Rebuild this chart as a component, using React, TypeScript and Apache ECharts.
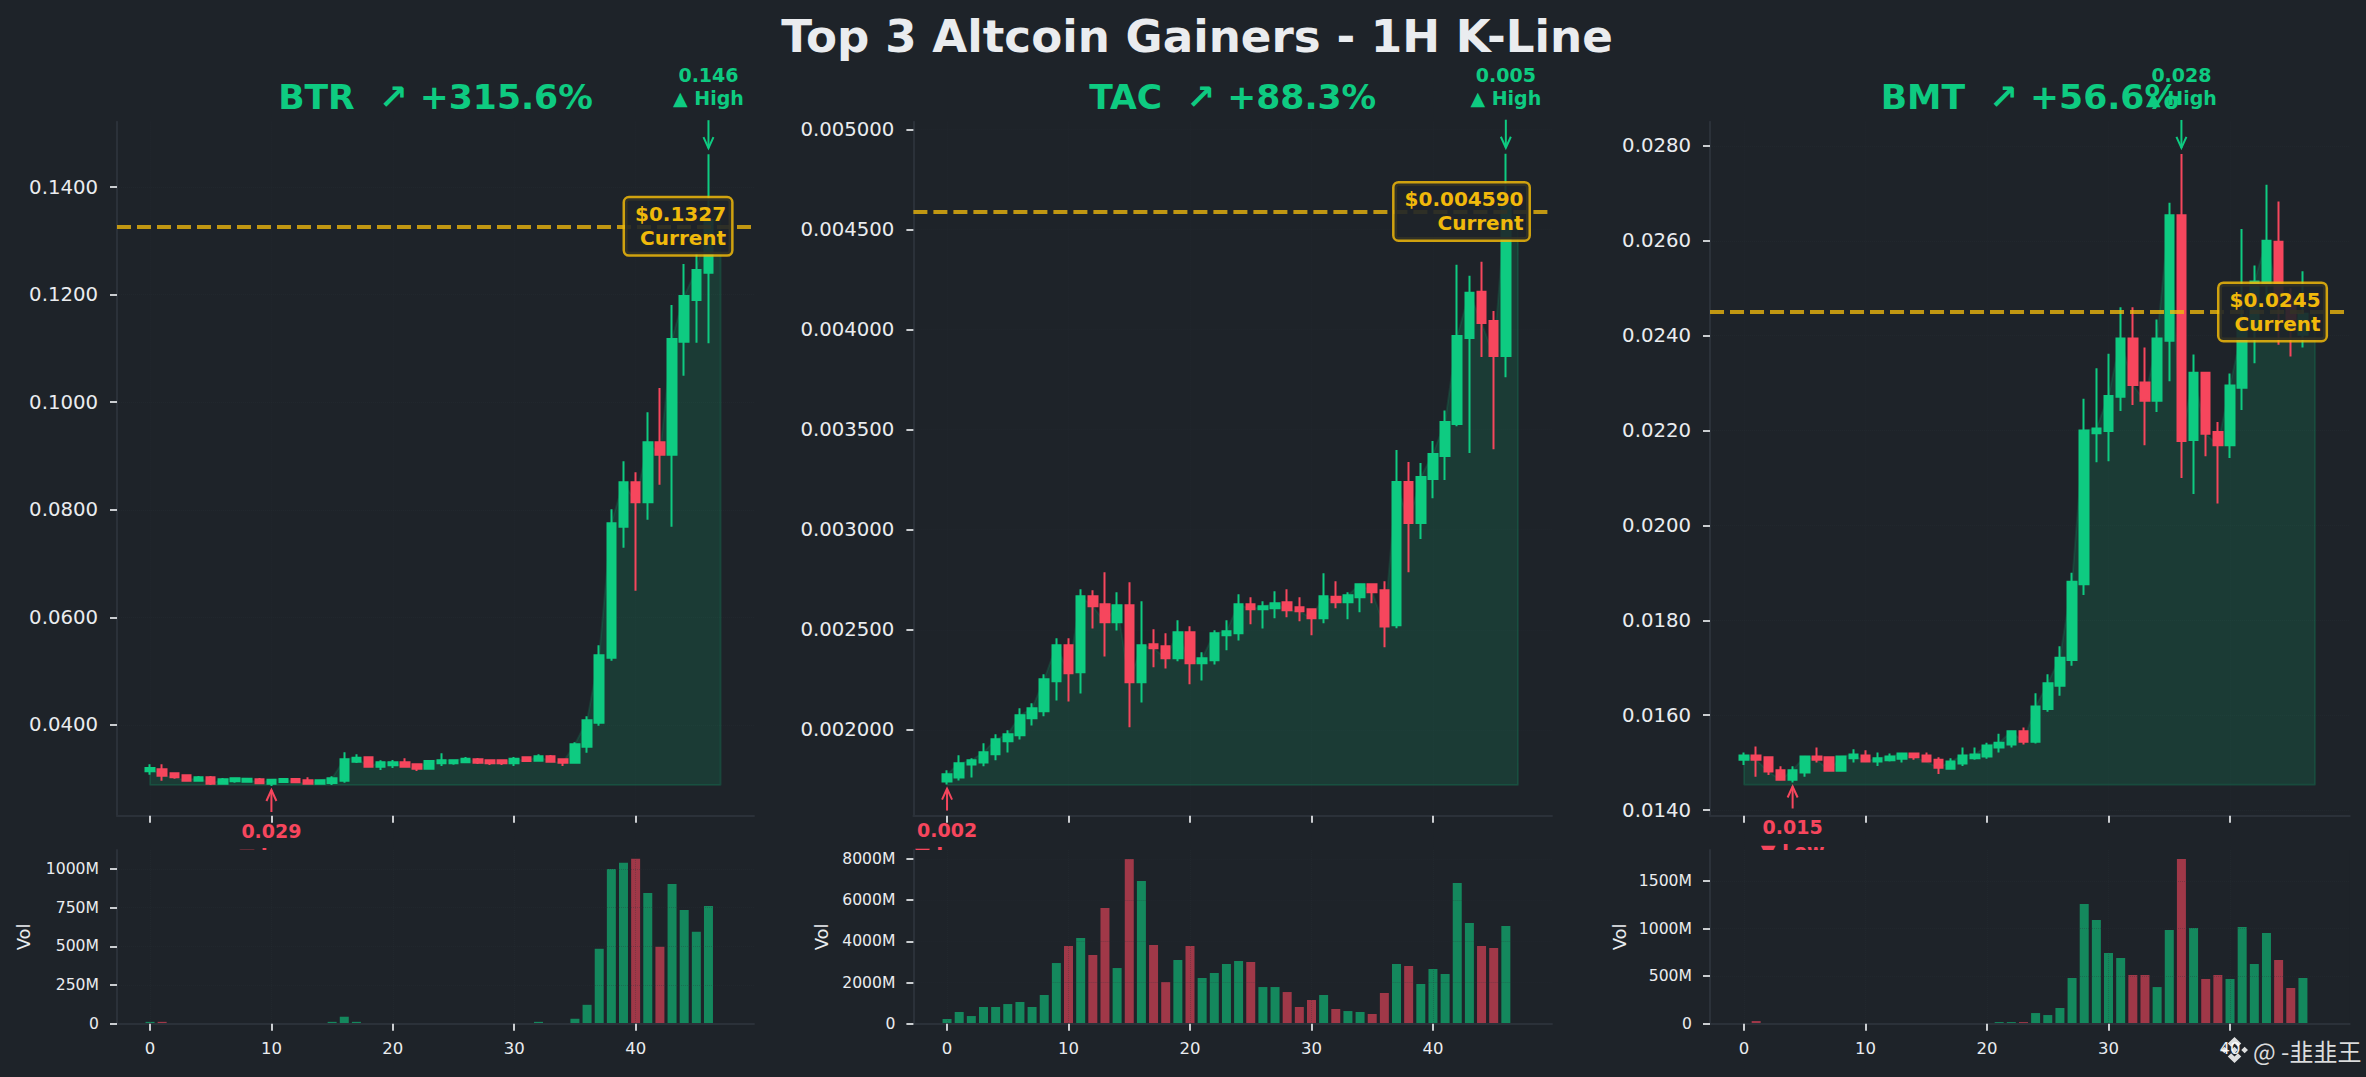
import React, { useEffect, useRef } from "react";
import * as echarts from "echarts";

const WIDTH = 2366;
const HEIGHT = 1077;
const GREEN = "#0ecb81";
const RED = "#f6465d";
const GOLD = "#f0b90b";
const BG = "#1e2329";
const TEXT = "#eaecef";
const SPINE = "#2b3139";
const FONT = '"DejaVu Sans", sans-serif';

const xTicks = [0, 10, 20, 30, 40];

// [open, close, low, high]
const btrCandles = [
  [0.03139, 0.03201, 0.03077, 0.03269], [0.03176, 0.03058, 0.02965, 0.03269], [0.03102, 0.03027, 0.03002, 0.03108],
  [0.03064, 0.02965, 0.02947, 0.03064], [0.02965, 0.03027, 0.02947, 0.03052], [0.03027, 0.02909, 0.02885, 0.03052],
  [0.02909, 0.0299, 0.02903, 0.03015], [0.02953, 0.03009, 0.02928, 0.03015], [0.02947, 0.03002, 0.02928, 0.03015],
  [0.0299, 0.02916, 0.02903, 0.03015], [0.02909, 0.02984, 0.02866, 0.02984], [0.0294, 0.02996, 0.02922, 0.03015],
  [0.02996, 0.02934, 0.02922, 0.03015], [0.02971, 0.02909, 0.02903, 0.03027], [0.02909, 0.02971, 0.02903, 0.02978],
  [0.02922, 0.03009, 0.02885, 0.03046], [0.02965, 0.03362, 0.02928, 0.03492], [0.03318, 0.03393, 0.03294, 0.03455],
  [0.03399, 0.03226, 0.03213, 0.03399], [0.03226, 0.03306, 0.03164, 0.03343], [0.0325, 0.03306, 0.03201, 0.03349],
  [0.03306, 0.03226, 0.03207, 0.0338], [0.03269, 0.03188, 0.03145, 0.03269], [0.03188, 0.03331, 0.03176, 0.03349],
  [0.03287, 0.03343, 0.03238, 0.03473], [0.03287, 0.03343, 0.03263, 0.03362], [0.03306, 0.03374, 0.03294, 0.03405],
  [0.03362, 0.033, 0.03275, 0.03387], [0.03343, 0.03287, 0.03257, 0.03343], [0.03343, 0.03287, 0.03257, 0.03343],
  [0.03287, 0.03374, 0.03238, 0.03405], [0.03399, 0.03331, 0.03318, 0.03405], [0.03337, 0.03418, 0.03318, 0.03455],
  [0.03418, 0.03318, 0.033, 0.03442], [0.03362, 0.033, 0.03238, 0.03368], [0.033, 0.03641, 0.03281, 0.03678],
  [0.03597, 0.04087, 0.03486, 0.04161], [0.04043, 0.05295, 0.03988, 0.05481], [0.05252, 0.07749, 0.05196, 0.08009],
  [0.07687, 0.08511, 0.07296, 0.08901], [0.08511, 0.08139, 0.06497, 0.08696], [0.08139, 0.09254, 0.07817, 0.09812],
  [0.09254, 0.09025, 0.08467, 0.10264], [0.09025, 0.11175, 0.07687, 0.11807], [0.11124, 0.11974, 0.10493, 0.12569],
  [0.119, 0.12457, 0.11106, 0.12792], [0.12407, 0.13387, 0.11095, 0.1461],
];
const btrVolumes = [
  12, 12, 2, 2, 1, 2, 1, 1, 1, 1, 1, 1, 1, 1, 2, 12, 45, 12, 2, 1, 1, 2, 2, 2, 3, 2, 1, 1, 1, 1, 2, 2, 12, 2, 3, 32,
  122, 484, 1000, 1039, 1065, 845, 497, 903, 735, 594, 761,
];

const tacCandles = [
  [0.001742, 0.001778, 0.001727, 0.001798], [0.001762, 0.001833, 0.001747, 0.001873], [0.001827, 0.001848, 0.001762, 0.001858],
  [0.001837, 0.001888, 0.001818, 0.001933], [0.001878, 0.001953, 0.001848, 0.001978], [0.001943, 0.001978, 0.001887, 0.001998],
  [0.001973, 0.002073, 0.001952, 0.002108], [0.002058, 0.002108, 0.002022, 0.002133], [0.002093, 0.002253, 0.002068, 0.002278],
  [0.002243, 0.002423, 0.002147, 0.002458], [0.002423, 0.002283, 0.002142, 0.002458], [0.002288, 0.002668, 0.002182, 0.002703],
  [0.002668, 0.002618, 0.002507, 0.002698], [0.002628, 0.002538, 0.002367, 0.002788], [0.002538, 0.002623, 0.002497, 0.002688],
  [0.002623, 0.002238, 0.002013, 0.002738], [0.002238, 0.002423, 0.002137, 0.002643], [0.002428, 0.002408, 0.002313, 0.002503],
  [0.002418, 0.002358, 0.002307, 0.002483], [0.002358, 0.002488, 0.002343, 0.002548], [0.002488, 0.002333, 0.002228, 0.002518],
  [0.002333, 0.002358, 0.002247, 0.002388], [0.002348, 0.002483, 0.002327, 0.002498], [0.002473, 0.002493, 0.002398, 0.002548],
  [0.002483, 0.002628, 0.002447, 0.002678], [0.002628, 0.002603, 0.002528, 0.002663], [0.002603, 0.002618, 0.002507, 0.002643],
  [0.002608, 0.002633, 0.002558, 0.002693], [0.002638, 0.002598, 0.002563, 0.002703], [0.002613, 0.002593, 0.002543, 0.002663],
  [0.002603, 0.002558, 0.002473, 0.002603], [0.002558, 0.002668, 0.002533, 0.002783], [0.002665, 0.002638, 0.002608, 0.002743],
  [0.002638, 0.002673, 0.002553, 0.002688], [0.002663, 0.002728, 0.002588, 0.002733], [0.002728, 0.002688, 0.002633, 0.002728],
  [0.002698, 0.002517, 0.002413, 0.002743], [0.002523, 0.003238, 0.002508, 0.003398], [0.003238, 0.003033, 0.002788, 0.003338],
  [0.003033, 0.003263, 0.002953, 0.003333], [0.003253, 0.003378, 0.003157, 0.003443], [0.003368, 0.003538, 0.003248, 0.003595],
  [0.003528, 0.003968, 0.003517, 0.004323], [0.003958, 0.004183, 0.003383, 0.004268], [0.004188, 0.004033, 0.003863, 0.004338],
  [0.004043, 0.003868, 0.003402, 0.004093], [0.003868, 0.00463, 0.003762, 0.004878],
];
const tacVolumes = [
  227, 567, 372, 810, 810, 955, 1053, 810, 1393, 2947, 3773, 4162, 3336, 5619, 2704, 8000, 6931, 3822, 2024, 3093, 3773,
  2219, 2462, 2899, 3045, 2996, 1781, 1781, 1538, 810, 1150, 1393, 713, 615, 567, 470, 1490, 2899, 2802, 1927, 2656, 2413,
  6834, 4891, 3773, 3676, 4745,
];

const bmtCandles = [
  [0.01506, 0.01515, 0.01495, 0.01521], [0.01515, 0.01506, 0.0147, 0.01534], [0.01511, 0.01481, 0.01474, 0.01511],
  [0.01484, 0.01464, 0.01462, 0.01492], [0.01464, 0.01484, 0.01458, 0.01492], [0.01479, 0.01513, 0.0147, 0.01513],
  [0.01513, 0.01506, 0.015, 0.01532], [0.01511, 0.01483, 0.01483, 0.01511], [0.01483, 0.01513, 0.01481, 0.01515],
  [0.01509, 0.01517, 0.015, 0.01528], [0.01515, 0.01502, 0.015, 0.01526], [0.01502, 0.01509, 0.01493, 0.01521],
  [0.01505, 0.01513, 0.01502, 0.01519], [0.01508, 0.01519, 0.015, 0.01519], [0.01519, 0.01511, 0.01506, 0.01521],
  [0.01515, 0.01502, 0.015, 0.01521], [0.01506, 0.01489, 0.01476, 0.01511], [0.01487, 0.01502, 0.01487, 0.01509],
  [0.01498, 0.01515, 0.01493, 0.01532], [0.01509, 0.01517, 0.01506, 0.01532], [0.01513, 0.01536, 0.01508, 0.01542],
  [0.01532, 0.01542, 0.01521, 0.01561], [0.01538, 0.01566, 0.01532, 0.01566], [0.01566, 0.01544, 0.01538, 0.01574],
  [0.01544, 0.01618, 0.0154, 0.01646], [0.01613, 0.01667, 0.01607, 0.01686], [0.01662, 0.01721, 0.01641, 0.01745],
  [0.01716, 0.01881, 0.01704, 0.019], [0.01876, 0.022, 0.01853, 0.02267], [0.02194, 0.02204, 0.02133, 0.02331],
  [0.02199, 0.02273, 0.02135, 0.02362], [0.02271, 0.02394, 0.02241, 0.0246], [0.02394, 0.02296, 0.02254, 0.0246],
  [0.02301, 0.02263, 0.02169, 0.02375], [0.02263, 0.02394, 0.02239, 0.02434], [0.02389, 0.02654, 0.02304, 0.0268],
  [0.02654, 0.02178, 0.021, 0.02783], [0.0218, 0.02322, 0.02066, 0.0236], [0.02322, 0.02193, 0.02146, 0.02324],
  [0.02197, 0.02169, 0.02046, 0.02218], [0.02169, 0.02295, 0.02142, 0.0232], [0.0229, 0.02413, 0.02243, 0.02625],
  [0.02413, 0.02514, 0.02342, 0.02548], [0.02508, 0.026, 0.02476, 0.02718], [0.02598, 0.02476, 0.02381, 0.02683],
  [0.02476, 0.02423, 0.02356, 0.025], [0.02402, 0.02446, 0.02375, 0.02536],
];
const bmtVolumes = [
  2, 28, 3, 3, 3, 3, 2, 2, 2, 2, 2, 2, 1, 2, 2, 2, 3, 2, 2, 2, 3, 17, 17, 17, 112, 91, 165, 480, 1258, 1090, 743, 690, 512,
  512, 385, 985, 1731, 1006, 470, 512, 470, 1016, 627, 953, 669, 375, 480,
];

const btrPriceTicks = [0.04, 0.06, 0.08, 0.1, 0.12, 0.14];
const tacPriceTicks = [0.002, 0.0025, 0.003, 0.0035, 0.004, 0.0045, 0.005];
const bmtPriceTicks = [0.014, 0.016, 0.018, 0.02, 0.022, 0.024, 0.026, 0.028];
const btrVolTicks = [0, 250, 500, 750, 1000];
const tacVolTicks = [0, 2000, 4000, 6000, 8000];
const bmtVolTicks = [0, 500, 1000, 1500];

const panels = [
  {
    title: "BTR  ↗ +315.6%", candles: btrCandles, volumes: btrVolumes, priceTicks: btrPriceTicks, volTicks: btrVolTicks,
    digits: 4, current: 0.1327, currentText: "$0.1327", tail: 0.1339, base: 0.02885,
    highX: 46, high: 0.1461, highText: "0.146", lowX: 10, low: 0.02866, lowText: "0.029",
    left: 117, width: 637, xMin: -2.72, xMax: 49.75, yMin: 0.02314, yMax: 0.15214, volMax: 1122, nameGap: 85,
  },
  {
    title: "TAC  ↗ +88.3%", candles: tacCandles, volumes: tacVolumes, priceTicks: tacPriceTicks, volTicks: tacVolTicks,
    digits: 6, current: 0.00459, currentText: "$0.004590", tail: 0.00463, base: 0.001725,
    highX: 46, high: 0.004878, highText: "0.005", lowX: 0, low: 0.001727, lowText: "0.002",
    left: 913.4, width: 638.6, xMin: -2.77, xMax: 49.8, yMin: 0.0015715, yMax: 0.005038, volMax: 8437, nameGap: 82.5,
  },
  {
    title: "BMT  ↗ +56.6%", candles: bmtCandles, volumes: bmtVolumes, priceTicks: bmtPriceTicks, volTicks: bmtVolTicks,
    digits: 4, current: 0.0245, currentText: "$0.0245", tail: 0.02446, base: 0.01453,
    highX: 36, high: 0.02783, highText: "0.028", lowX: 4, low: 0.01458, lowText: "0.015",
    left: 1710, width: 639.7, xMin: -2.8, xMax: 49.85, yMin: 0.01388, yMax: 0.02851, volMax: 1825, nameGap: 81.5,
  },
];

const MAIN_TOP = 121.7;
const MAIN_HEIGHT = 694;
const VOL_TOP = 850;
const VOL_HEIGHT = 173.7;

echarts.graphic.registerShape(
  "wmlogo",
  echarts.graphic.extendPath(
    "M12 0 L18 6 L15 9 L12 6 L9 9 L6 6 Z M12 24 L18 18 L15 15 L12 18 L9 15 L6 18 Z M3 9 L6 12 L3 15 L0 12 Z M21 9 L24 12 L21 15 L18 12 Z M12 9 L15 12 L12 15 L9 12 Z",
    {}
  )
);

function arrowShape(x: number, tipY: number, tailY: number, color: string) {
  const dir = tailY > tipY ? 1 : -1;
  const lineStyle = { stroke: color, lineWidth: 2, fill: "none" };
  return [
    { type: "line", shape: { x1: x, y1: tailY, x2: x, y2: tipY }, style: lineStyle },
    {
      type: "polyline",
      shape: { points: [[x - 5, tipY + dir * 11], [x, tipY], [x + 5, tipY + dir * 11]] },
      style: lineStyle,
    },
  ];
}

function buildOption() {
  const grid: any[] = [];
  const xAxis: any[] = [];
  const yAxis: any[] = [];
  const series: any[] = [];
  const title: any[] = [
    {
      text: "Top 3 Altcoin Gainers - 1H K-Line",
      left: 1197,
      top: 13.5,
      padding: 0,
      textAlign: "center",
      textStyle: { color: TEXT, fontFamily: FONT, fontWeight: "bold", fontSize: 45.2 },
    },
  ];

  const tickLine = { show: true, length: 7, lineStyle: { color: TEXT, width: 1.7 } };
  const spine = { show: true, onZero: false, lineStyle: { color: SPINE, width: 2 } };
  const faint = { show: true, lineStyle: { color: "rgba(43,49,57,0.3)", width: 1, type: "dotted" } };

  panels.forEach((p, idx) => {
    const mainIdx = idx * 2;
    const volIdx = idx * 2 + 1;
    const priceData = p.candles.map((c, i) => [i, c[0], c[1], c[2], c[3]]);
    const lastX = p.candles.length;
    const closeData = p.candles.map((c, i) => [i, c[1]]);
    closeData.push([lastX, p.tail]);

    title.push({
      text: p.title,
      left: p.left + p.width / 2,
      top: 79,
      padding: 0,
      textAlign: "center",
      textStyle: { color: GREEN, fontFamily: FONT, fontWeight: "bold", fontSize: 34.6 },
    });

    grid.push({ left: p.left, top: MAIN_TOP, width: p.width, height: MAIN_HEIGHT });
    grid.push({
      left: p.left, top: VOL_TOP, width: p.width, height: VOL_HEIGHT,
      show: true, backgroundColor: BG, borderWidth: 0, z: 1.5,
    });

    xAxis.push({
      type: "value", gridIndex: mainIdx, min: p.xMin, max: p.xMax,
      axisLine: spine,
      axisTick: { ...tickLine, customValues: xTicks },
      axisLabel: { show: false, customValues: xTicks },
      splitLine: faint,
    });
    xAxis.push({
      type: "value", gridIndex: volIdx, min: p.xMin, max: p.xMax, z: 3,
      axisLine: spine,
      axisTick: { ...tickLine, customValues: xTicks },
      axisLabel: { color: TEXT, fontFamily: FONT, fontSize: 16.5, margin: 16.5, customValues: xTicks, formatter: (v: number) => String(v) },
      splitLine: faint,
    });
    yAxis.push({
      type: "value", gridIndex: mainIdx, min: p.yMin, max: p.yMax,
      axisLine: spine,
      axisTick: { ...tickLine, customValues: p.priceTicks },
      axisLabel: {
        color: TEXT, fontFamily: FONT, fontSize: 19.7, margin: 19, padding: [2, 0, 0, 0], customValues: p.priceTicks,
        formatter: (v: number) => v.toFixed(p.digits),
      },
      splitLine: faint,
    });
    yAxis.push({
      type: "value", gridIndex: volIdx, min: 0, max: p.volMax, z: 3,
      name: "Vol", nameLocation: "middle", nameGap: p.nameGap, nameRotate: 90,
      nameTextStyle: { color: TEXT, fontFamily: FONT, fontSize: 18 },
      axisLine: spine,
      axisTick: { ...tickLine, customValues: p.volTicks },
      axisLabel: {
        color: TEXT, fontFamily: FONT, fontSize: 15.6, margin: 18, padding: [6, 0, 0, 0], customValues: p.volTicks,
        formatter: (v: number) => (v === 0 ? "0" : `${v}M`),
      },
      splitLine: faint,
    });

    // area below the closes
    series.push({
      type: "line", xAxisIndex: mainIdx, yAxisIndex: mainIdx, z: 1, data: closeData,
      showSymbol: false, silent: true,
      lineStyle: { color: GREEN, opacity: 0.13, width: 2 },
      areaStyle: { color: GREEN, opacity: 0.15, origin: p.base },
    });
    // outline of the fill along its base and sides
    series.push({
      type: "line", xAxisIndex: mainIdx, yAxisIndex: mainIdx, z: 1,
      data: [[0, p.candles[0][1]], [0, p.base], [lastX, p.base], [lastX, p.tail]],
      showSymbol: false, silent: true,
      lineStyle: { color: GREEN, opacity: 0.15, width: 2 },
    });
    // low annotation: below the volume grid, which cuts its second line
    series.push({
      type: "custom", xAxisIndex: mainIdx, yAxisIndex: mainIdx, z: 1, silent: true, clip: false,
      data: [[p.lowX, p.low]],
      renderItem: (_: any, api: any) => {
        const [x, y] = api.coord([api.value(0), api.value(1)]);
        return {
          type: "group",
          children: [
            ...arrowShape(x, y + 4, y + 26, RED),
            {
              type: "text", x, y: y + 57,
              style: {
                text: `${p.lowText}\n▼ Low`, align: "center", verticalAlign: "middle", lineHeight: 24,
                fill: RED, font: `bold 19px ${FONT}`,
              },
            },
          ],
        };
      },
    });
    series.push({
      type: "candlestick", xAxisIndex: mainIdx, yAxisIndex: mainIdx, z: 2, barWidth: 9, silent: true,
      data: priceData,
      itemStyle: { color: GREEN, color0: RED, borderColor: GREEN, borderColor0: RED, borderWidth: 2 },
      markLine: {
        silent: true, symbol: "none", animation: false, precision: 8, label: { show: false },
        lineStyle: { color: GOLD, opacity: 0.78, width: 4, type: [14, 6] },
        data: [{ yAxis: p.current }],
      },
    });
    // high annotation and current price box
    series.push({
      type: "custom", xAxisIndex: mainIdx, yAxisIndex: mainIdx, z: 10, silent: true, clip: false,
      data: [[p.highX, p.high], [lastX, p.current]],
      renderItem: (params: any, api: any) => {
        const [x, y] = api.coord([api.value(0), api.value(1)]);
        if (params.dataIndex === 0) {
          return {
            type: "group",
            children: [
              ...arrowShape(x, y - 6, y - 34, GREEN),
              {
                type: "text", x, y: y - 67.5,
                style: {
                  text: `${p.highText}\n▲ High`, align: "center", verticalAlign: "middle", lineHeight: 23,
                  fill: GREEN, font: `bold 19px ${FONT}`,
                },
              },
            ],
          };
        }
        return {
          type: "text", x: x + 10.5, y,
          style: {
            text: `${p.currentText}\nCurrent`, align: "right", verticalAlign: "middle", lineHeight: 24,
            fill: GOLD, font: `bold 20px ${FONT}`,
            backgroundColor: "rgba(30,35,41,0.9)", borderColor: "rgba(240,185,11,0.85)", borderWidth: 2.5, borderRadius: 4,
            padding: [4, 5, 4, 10],
          },
        };
      },
    });
    series.push({
      type: "bar", xAxisIndex: volIdx, yAxisIndex: volIdx, barWidth: 9, z: 2, silent: true,
      data: p.volumes.map((v, i) => ({
        value: [i, v],
        itemStyle: { color: p.candles[i][1] >= p.candles[i][0] ? GREEN : RED, opacity: 0.6 },
      })),
    });
  });

  return {
    animation: false,
    backgroundColor: BG,
    title,
    grid,
    xAxis,
    yAxis,
    series,
    graphic: {
      elements: [
        {
          type: "wmlogo", x: 2221, y: 1037, scaleX: 27 / 24, scaleY: 26 / 24, z: 20,
          style: { fill: "rgba(255,255,255,0.85)" },
        },
        {
          type: "text", x: 2253, y: 1050, z: 20,
          style: {
            text: "@ -韭韭王", fill: "rgba(255,255,255,0.85)", verticalAlign: "middle",
            font: '24px "Noto Sans CJK SC", sans-serif',
          },
        },
      ],
    },
  };
}

export default function App() {
  const ref = useRef<HTMLDivElement | null>(null);
  useEffect(() => {
    if (!ref.current) return;
    const chart = echarts.init(ref.current, undefined, { renderer: "svg" });
    chart.setOption(buildOption() as any);
    return () => chart.dispose();
  }, []);
  return <div ref={ref} style={{ position: "absolute", left: 0, top: 0, width: WIDTH, height: HEIGHT }} />;
}
